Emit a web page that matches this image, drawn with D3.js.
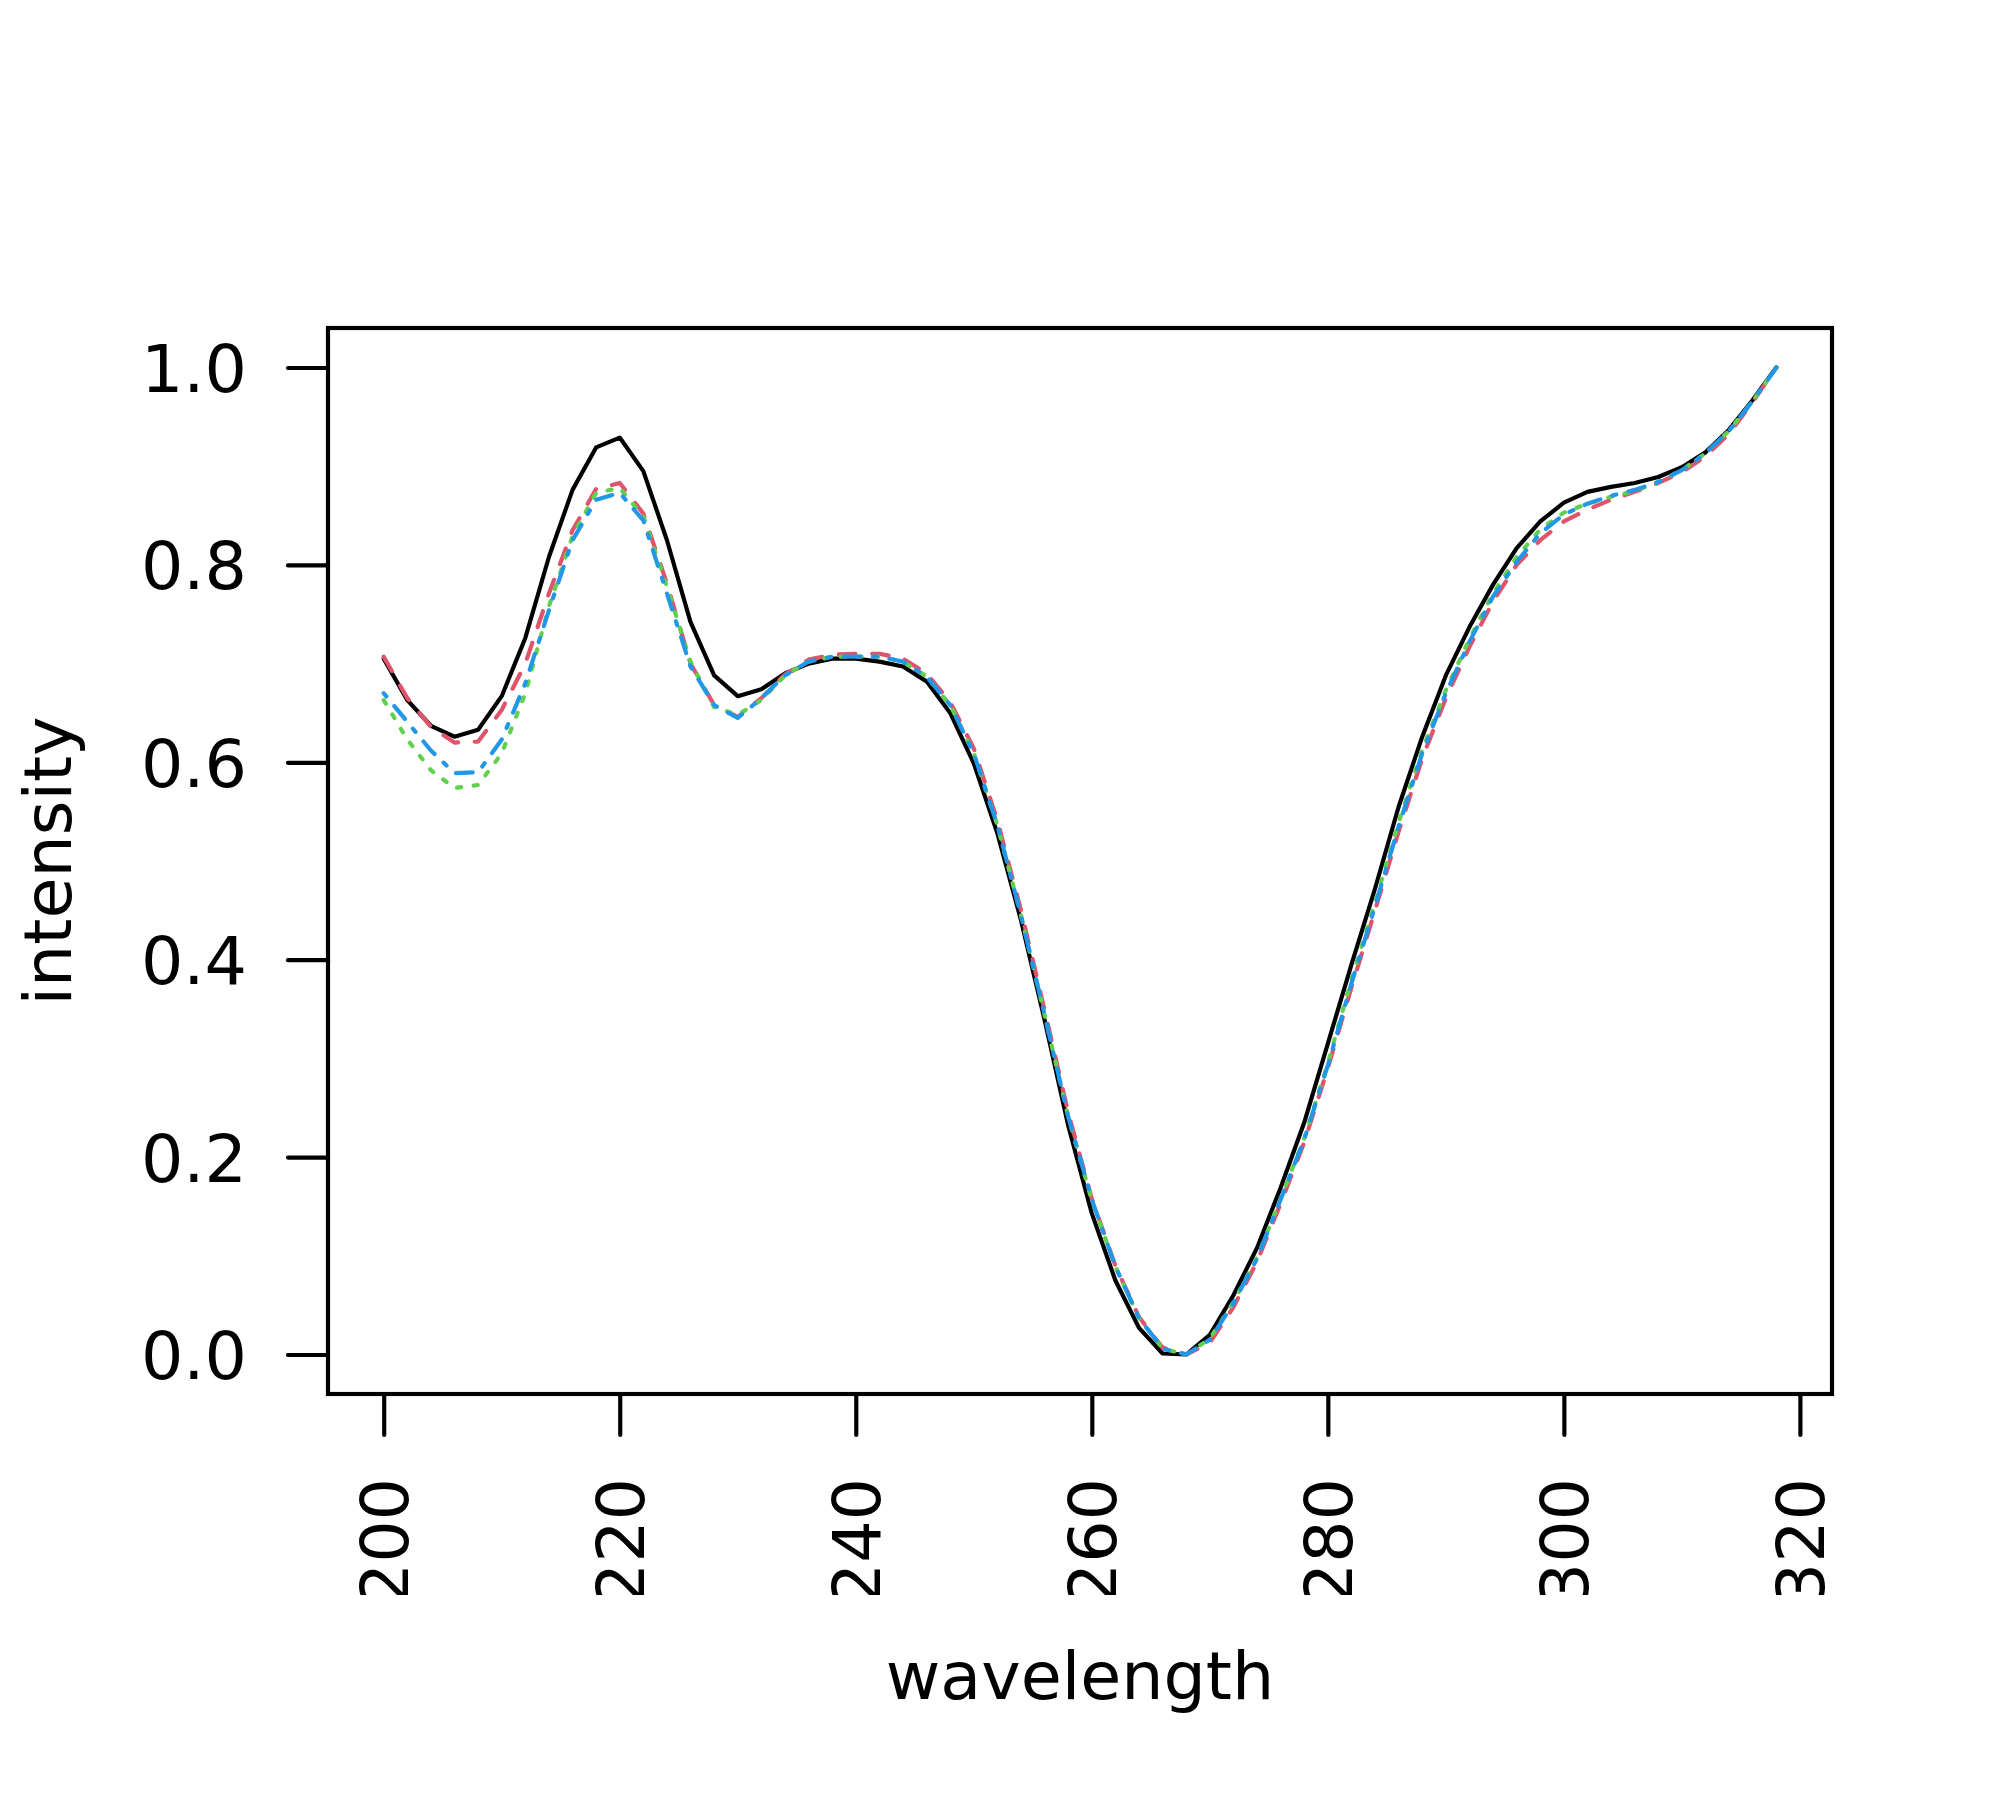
<!DOCTYPE html>
<html>
<head>
<meta charset="utf-8">
<script src="https://cdn.jsdelivr.net/npm/d3@7"></script>
<style>
    body { margin: 0; background: #fff; }
    text { font-family: "DejaVu Sans", sans-serif; fill: #000; }
</style>
</head>
<body>
<div id="plot"></div>
<script>
// wavelengths 200..318, one reading every 2 nm
var wavelength = [200, 202, 204, 206, 208, 210, 212, 214, 216, 218,
                  220, 222, 224, 226, 228, 230, 232, 234, 236, 238,
                  240, 242, 244, 246, 248, 250, 252, 254, 256, 258,
                  260, 262, 264, 266, 268, 270, 272, 274, 276, 278,
                  280, 282, 284, 286, 288, 290, 292, 294, 296, 298,
                  300, 302, 304, 306, 308, 310, 312, 314, 316, 318];

var series1 = [0.705, 0.663, 0.637, 0.626, 0.633, 0.667, 0.726, 0.808, 0.876, 0.919,
               0.929, 0.895, 0.825, 0.742, 0.688, 0.667, 0.674, 0.690, 0.700, 0.705,
               0.705, 0.702, 0.697, 0.682, 0.650, 0.599, 0.528, 0.440, 0.339, 0.232,
               0.143, 0.075, 0.027, 0.001, 0.000, 0.020, 0.060, 0.108, 0.169, 0.235,
               0.315, 0.395, 0.472, 0.555, 0.626, 0.688, 0.737, 0.780, 0.817, 0.844,
               0.863, 0.874, 0.879, 0.883, 0.889, 0.899, 0.914, 0.937, 0.967, 1.000];

var series2 = [0.707, 0.665, 0.636, 0.620, 0.621, 0.653, 0.700, 0.771, 0.835, 0.877,
               0.883, 0.852, 0.781, 0.700, 0.658, 0.646, 0.665, 0.689, 0.704, 0.709,
               0.710, 0.710, 0.705, 0.690, 0.661, 0.614, 0.541, 0.450, 0.349, 0.245,
               0.158, 0.090, 0.038, 0.007, 0.000, 0.012, 0.048, 0.094, 0.153, 0.215,
               0.290, 0.372, 0.450, 0.530, 0.604, 0.665, 0.717, 0.763, 0.800, 0.825,
               0.844, 0.856, 0.866, 0.874, 0.883, 0.894, 0.910, 0.933, 0.965, 1.000];

var series3 = [0.663, 0.623, 0.592, 0.574, 0.577, 0.609, 0.670, 0.758, 0.829, 0.873,
               0.878, 0.849, 0.778, 0.702, 0.656, 0.648, 0.663, 0.688, 0.702, 0.707,
               0.707, 0.707, 0.702, 0.687, 0.658, 0.609, 0.536, 0.445, 0.344, 0.241,
               0.156, 0.089, 0.037, 0.006, 0.000, 0.016, 0.053, 0.098, 0.158, 0.219,
               0.295, 0.380, 0.458, 0.539, 0.613, 0.673, 0.725, 0.771, 0.808, 0.836,
               0.853, 0.862, 0.869, 0.875, 0.884, 0.896, 0.913, 0.936, 0.966, 1.000];

var series4 = [0.670, 0.641, 0.612, 0.589, 0.590, 0.623, 0.680, 0.754, 0.825, 0.866,
               0.873, 0.845, 0.771, 0.697, 0.658, 0.645, 0.665, 0.688, 0.702, 0.707,
               0.707, 0.707, 0.702, 0.687, 0.658, 0.609, 0.536, 0.445, 0.344, 0.241,
               0.157, 0.089, 0.037, 0.006, 0.000, 0.015, 0.052, 0.097, 0.157, 0.218,
               0.293, 0.376, 0.454, 0.535, 0.609, 0.670, 0.722, 0.768, 0.803, 0.832,
               0.851, 0.862, 0.870, 0.876, 0.884, 0.896, 0.913, 0.936, 0.966, 1.000];

var xTicks = [200, 220, 240, 260, 280, 300, 320];
var yTicks = [0, 0.2, 0.4, 0.6, 0.8, 1.0];

var view = {
    w: 2000,
    h: 1802,
    box: { left: 328, right: 1832, top: 328, bottom: 1394 },
    lw: 4.17,
    fontSize: 66.7
};

var svg = d3.select("#plot")
            .append("svg")
            .attr("width", view.w)
            .attr("height", view.h)
            .style("display", "block");

// R style: 4% padding on both ends of the data range
var xPad = (318 - 200) * 0.04,
    yPad = 1 * 0.04;

var xScale = d3.scaleLinear()
                .domain([200 - xPad, 318 + xPad])
                .range([view.box.left, view.box.right]),
    yScale = d3.scaleLinear()
                .domain([0 - yPad, 1 + yPad])
                .range([view.box.bottom, view.box.top]);

var lw = view.lw;
var lines = [
    { values: series1, color: "#000000", dash: null },
    { values: series2, color: "#DF536B", dash: [4 * lw, 4 * lw] },
    { values: series3, color: "#61D04F", dash: [1 * lw, 3 * lw] },
    { values: series4, color: "#2297E6", dash: [1 * lw, 3 * lw, 4 * lw, 3 * lw] }
];

var line = d3.line()
            .x(function(d){ return xScale(d[0]); })
            .y(function(d){ return yScale(d[1]); });

svg.append("g")
    .selectAll("path")
    .data(lines)
    .enter().append("path")
    .attr("d", function(s){
        return line(wavelength.map(function(w, i){ return [w, s.values[i]]; }));
    })
    .attr("fill", "none")
    .attr("stroke", function(s){ return s.color; })
    .attr("stroke-width", lw)
    .attr("stroke-linecap", "round")
    .attr("stroke-linejoin", "round")
    .attr("stroke-dasharray", function(s){ return s.dash ? s.dash.join(",") : null; });

// plot frame
svg.append("rect")
    .attr("x", view.box.left)
    .attr("y", view.box.top)
    .attr("width", view.box.right - view.box.left)
    .attr("height", view.box.bottom - view.box.top)
    .attr("fill", "none")
    .attr("stroke", "#000")
    .attr("stroke-width", lw);

// y axis
var g_y = svg.append("g")
            .attr("transform", "translate(" + view.box.left + ",0)")
            .call(d3.axisLeft(yScale)
                    .tickValues(yTicks)
                    .tickSize(40)
                    .tickPadding(41)
                    .tickFormat(d3.format(".1f")));
g_y.select(".domain").remove();
g_y.selectAll("line").attr("stroke-width", lw).attr("stroke-linecap", "round");
g_y.selectAll("text")
    .attr("dy", "0.36em")
    .style("font-size", view.fontSize + "px")
    .style("font-family", "DejaVu Sans");

// x axis, labels turned on their side (las = 2), cut off at y = 1595 like the original
svg.append("clipPath")
    .attr("id", "xlab-clip")
    .append("rect")
    .attr("x", 0)
    .attr("y", 0)
    .attr("width", view.w)
    .attr("height", 1595);

var g_xwrap = svg.append("g").attr("clip-path", "url(#xlab-clip)");
var g_x = g_xwrap.append("g")
            .attr("transform", "translate(0," + view.box.bottom + ")")
            .call(d3.axisBottom(xScale)
                    .tickValues(xTicks)
                    .tickSize(41)
                    .tickFormat(d3.format("d")));
g_x.select(".domain").remove();
g_x.selectAll("line").attr("stroke-width", lw).attr("stroke-linecap", "round");
g_x.selectAll("text")
    .attr("transform", "rotate(-90)")
    .attr("x", -84)
    .attr("y", 0)
    .attr("dy", "0.36em")
    .attr("text-anchor", "end")
    .style("font-size", view.fontSize + "px")
    .style("font-family", "DejaVu Sans");

// axis titles
svg.append("text")
    .attr("x", (view.box.left + view.box.right) / 2)
    .attr("y", 1699)
    .attr("text-anchor", "middle")
    .style("font-size", view.fontSize + "px")
    .text("wavelength");

svg.append("text")
    .attr("transform", "translate(71," + (view.box.top + view.box.bottom) / 2 + ") rotate(-90)")
    .attr("text-anchor", "middle")
    .style("font-size", view.fontSize + "px")
    .text("intensity");
</script>
</body>
</html>
